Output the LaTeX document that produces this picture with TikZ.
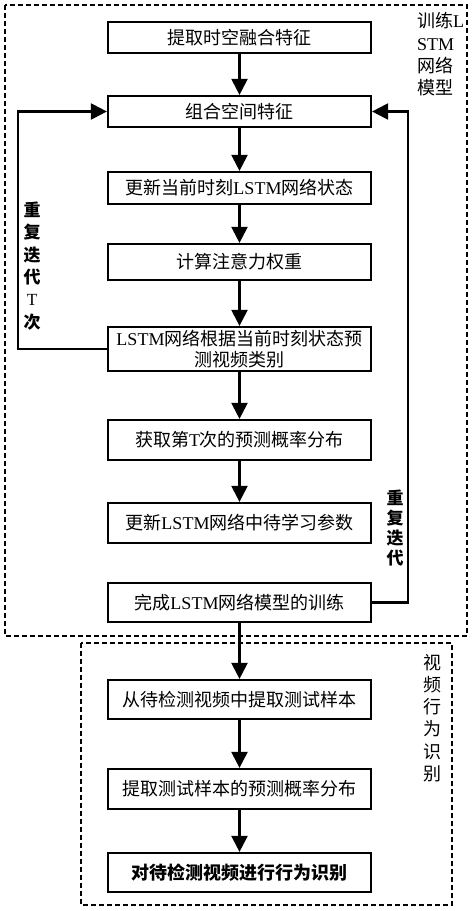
\documentclass[tikz,border=0pt]{standalone}
\usepackage{fontspec}
\setmainfont{Noto Sans CJK SC}
\newfontfamily\lat{Liberation Serif}
\usetikzlibrary{arrows.meta,positioning}
\begin{document}
\begin{tikzpicture}
[x=1pt,y=-1pt, >={Triangle[length=16pt,width=16pt]},
stepbox/.style={draw,line width=2.2pt,minimum width=263pt,minimum height=39pt,inner sep=0pt,align=center,font=\fontsize{18}{21}\selectfont},
flow/.style={->,line width=2.2pt},
frame/.style={line width=1.1pt,dash pattern=on 5pt off 3pt},
side/.style={align=center,inner sep=0pt,font=\fontsize{17}{22.4}\selectfont}]
\useasboundingbox (0,0) rectangle (474,911);

% dashed frames
\draw[frame] (5,5) rectangle (467,636);
\draw[frame] (81,643) rectangle (452,905);

\node (b1) at (239.5,37.5)[stepbox,minimum height=31pt] {提取时空融合特征};
\node (b2) at (239.5,111.5)[stepbox,minimum height=31pt] {组合空间特征};
\node (b3) at (239.5,188)[stepbox,minimum height=32pt] {更新当前时刻{\lat LSTM}网络状态};
\node (b4) at (239.5,262)[stepbox,minimum height=36pt] {计算注意力权重};
\node (b5) at (239.5,349)[stepbox,minimum height=44pt] {{\lat LSTM}网络根据当前时刻状态预\\测视频类别};
\node (b6) at (239.5,440)[stepbox,minimum height=40pt] {获取第{\lat T}次的预测概率分布};
\node (b7) at (239.5,523)[stepbox,minimum height=40pt] {更新{\lat LSTM}网络中待学习参数};
\node (b8) at (239.5,602.5)[stepbox] {完成{\lat LSTM}网络模型的训练};
\node (b9) at (239.5,699.5)[stepbox] {从待检测视频中提取测试样本};
\node (b10) at (239.5,789)[stepbox,minimum height=40pt] {提取测试样本的预测概率分布};
\node (b11) at (239.5,872.5)[stepbox] {\bfseries 对待检测视频进行行为识别};

% side labels
\node (lbl1) at (417,54.5)[side,anchor=west,align=left,font=\fontsize{18}{22.3}\selectfont] {训练{\lat L}\\{\lat STM}\\网络\\模型};
\node (lbl2) at (432,718)[side,font=\fontsize{18}{22.2}\selectfont] {视\\频\\行\\为\\识\\别};
\node (rep1) at (32,266)[side,font=\bfseries\fontsize{17}{22.4}\selectfont] {重\\复\\迭\\代\\{\mdseries\lat T}\\次};
\node (rep2) at (395,528)[side,font=\bfseries\fontsize{17}{20}\selectfont] {重\\复\\迭\\代};

\draw[flow] (b1.south) -- (b2.north);
\draw[flow] (b2.south) -- (b3.north);
\draw[flow] (b3.south) -- (b4.north);
\draw[flow] (b4.south) -- (b5.north);
\draw[flow] (b5.south) -- (b6.north);
\draw[flow] (b6.south) -- (b7.north);
\draw[flow] (b8.south) -- (b9.north);
\draw[flow] (b9.south) -- (b10.north);
\draw[flow] (b10.south) -- (b11.north);

% loops
\draw[flow] (b5.west) -- ++(-89,0) |- (b2.west);
\draw[flow] (b8.east) -- ++(36,0) |- (b2.east);
\end{tikzpicture}
\end{document}
